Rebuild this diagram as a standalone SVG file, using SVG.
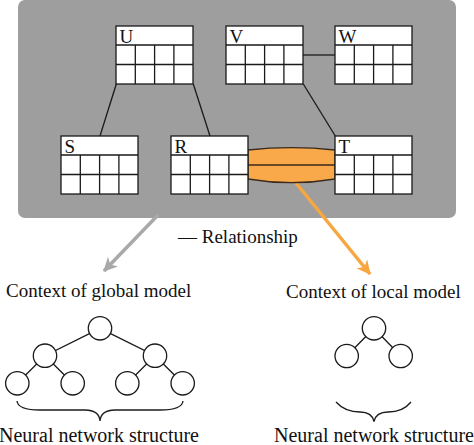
<svg xmlns="http://www.w3.org/2000/svg" width="474" height="445" viewBox="0 0 474 445">
<style>
.tb{fill:#fff;stroke:#1a1a1a;stroke-width:1.3}
.gl{stroke:#1a1a1a;stroke-width:1.3;fill:none}
.lb{font-family:"Liberation Serif","Times New Roman",serif;font-size:19px;fill:#111}
.tx{font-family:"Liberation Serif","Times New Roman",serif;font-size:19px;fill:#111}
.nn{font-size:20px}
.cn{stroke:#1a1a1a;stroke-width:1.3;fill:none}
.nc{fill:#fff;stroke:#1a1a1a;stroke-width:1.3}
</style>
<defs>
<g id="tbl">
<rect class="tb" x="0" y="0" width="77" height="58"/>
<path class="gl" d="M0,19H77M0,38.5H77M19.3,19V58M38.6,19V58M57.9,19V58"/>
</g>
<marker id="ag" markerUnits="userSpaceOnUse" markerWidth="16" markerHeight="16" refX="13" refY="7" orient="auto" viewBox="0 0 16 14">
<path d="M0,0 L14,7 L0,14 L4,7 Z" fill="#a9a9a9"/>
</marker>
<marker id="ao" markerUnits="userSpaceOnUse" markerWidth="16" markerHeight="16" refX="13" refY="7" orient="auto" viewBox="0 0 16 14">
<path d="M0,0 L14,7 L0,14 L4,7 Z" fill="#f7a640"/>
</marker>
</defs>
<rect id="panel" x="18" y="0" width="438" height="218" rx="7" fill="#9e9e9e"/>
<g id="connectors">
<line class="cn" x1="116.3" y1="84" x2="100" y2="136"/>
<line class="cn" x1="193.3" y1="84" x2="210" y2="136"/>
<line class="cn" x1="303" y1="55" x2="335" y2="55"/>
<line class="cn" x1="303.3" y1="84" x2="335.3" y2="136"/>
<line x1="158" y1="215" x2="104" y2="271" stroke="#a9a9a9" stroke-width="3.5" marker-end="url(#ag)"/>
<line x1="296" y1="183" x2="370" y2="274" stroke="#f7a640" stroke-width="3.5" marker-end="url(#ao)"/>
</g>
<g id="relationship">
<path d="M248,150 Q291.5,145.4 335,150 L335,179 Q291.5,186.4 248,179 Z" fill="#f9a94a" stroke="#3a2a1c" stroke-width="1.3"/>
<line x1="248" y1="165" x2="335" y2="165" stroke="#3a2a1c" stroke-width="1.3"/>
</g>
<g id="U"><use href="#tbl" x="116" y="26"/><text class="lb" x="119.5" y="43">U</text></g>
<g id="V"><use href="#tbl" x="226" y="26"/><text class="lb" x="229.5" y="43">V</text></g>
<g id="W"><use href="#tbl" x="335" y="26"/><text class="lb" x="338.5" y="43">W</text></g>
<g id="S"><use href="#tbl" x="61" y="136"/><text class="lb" x="64.5" y="153">S</text></g>
<g id="R"><use href="#tbl" x="171" y="136"/><text class="lb" x="174.5" y="153">R</text></g>
<g id="T"><use href="#tbl" x="335" y="136"/><text class="lb" x="338.5" y="153">T</text></g>
<g id="legend"><text class="tx" x="178" y="243">— Relationship</text></g>
<g id="global-model">
<text class="tx" x="6" y="297">Context of global model</text>
<path class="gl" d="M100,328.3L45,355.7L17.3,383.3M45,355.7L72.7,383.3M100,328.3L155,355.7L127.3,383.3M155,355.7L182.7,383.3"/>
<circle class="nc" cx="100" cy="328.3" r="11.7"/>
<circle class="nc" cx="45" cy="355.7" r="11.7"/>
<circle class="nc" cx="155" cy="355.7" r="11.7"/>
<circle class="nc" cx="17.3" cy="383.3" r="11.7"/>
<circle class="nc" cx="72.7" cy="383.3" r="11.7"/>
<circle class="nc" cx="127.3" cy="383.3" r="11.7"/>
<circle class="nc" cx="182.7" cy="383.3" r="11.7"/>
<path class="gl" d="M17,401 Q18,410 40,410 L85,410 Q99,410 100,421 Q101,410 115,410 L160,410 Q182,410 183,401"/>
<text class="tx nn" x="99" y="442" text-anchor="middle">Neural network structure</text>
</g>
<g id="local-model">
<text class="tx" x="286" y="298">Context of local model</text>
<path class="gl" d="M374,328.3L346.7,356M374,328.3L400.7,356"/>
<circle class="nc" cx="374" cy="328.3" r="11.7"/>
<circle class="nc" cx="346.7" cy="356" r="11.7"/>
<circle class="nc" cx="400.7" cy="356" r="11.7"/>
<path class="gl" d="M336,402 Q345,412 360,412 Q372,412 374,421.5 Q376,412 388,412 Q403,412 411,402"/>
<text class="tx nn" x="374" y="442" text-anchor="middle">Neural network structure</text>
</g>
</svg>
